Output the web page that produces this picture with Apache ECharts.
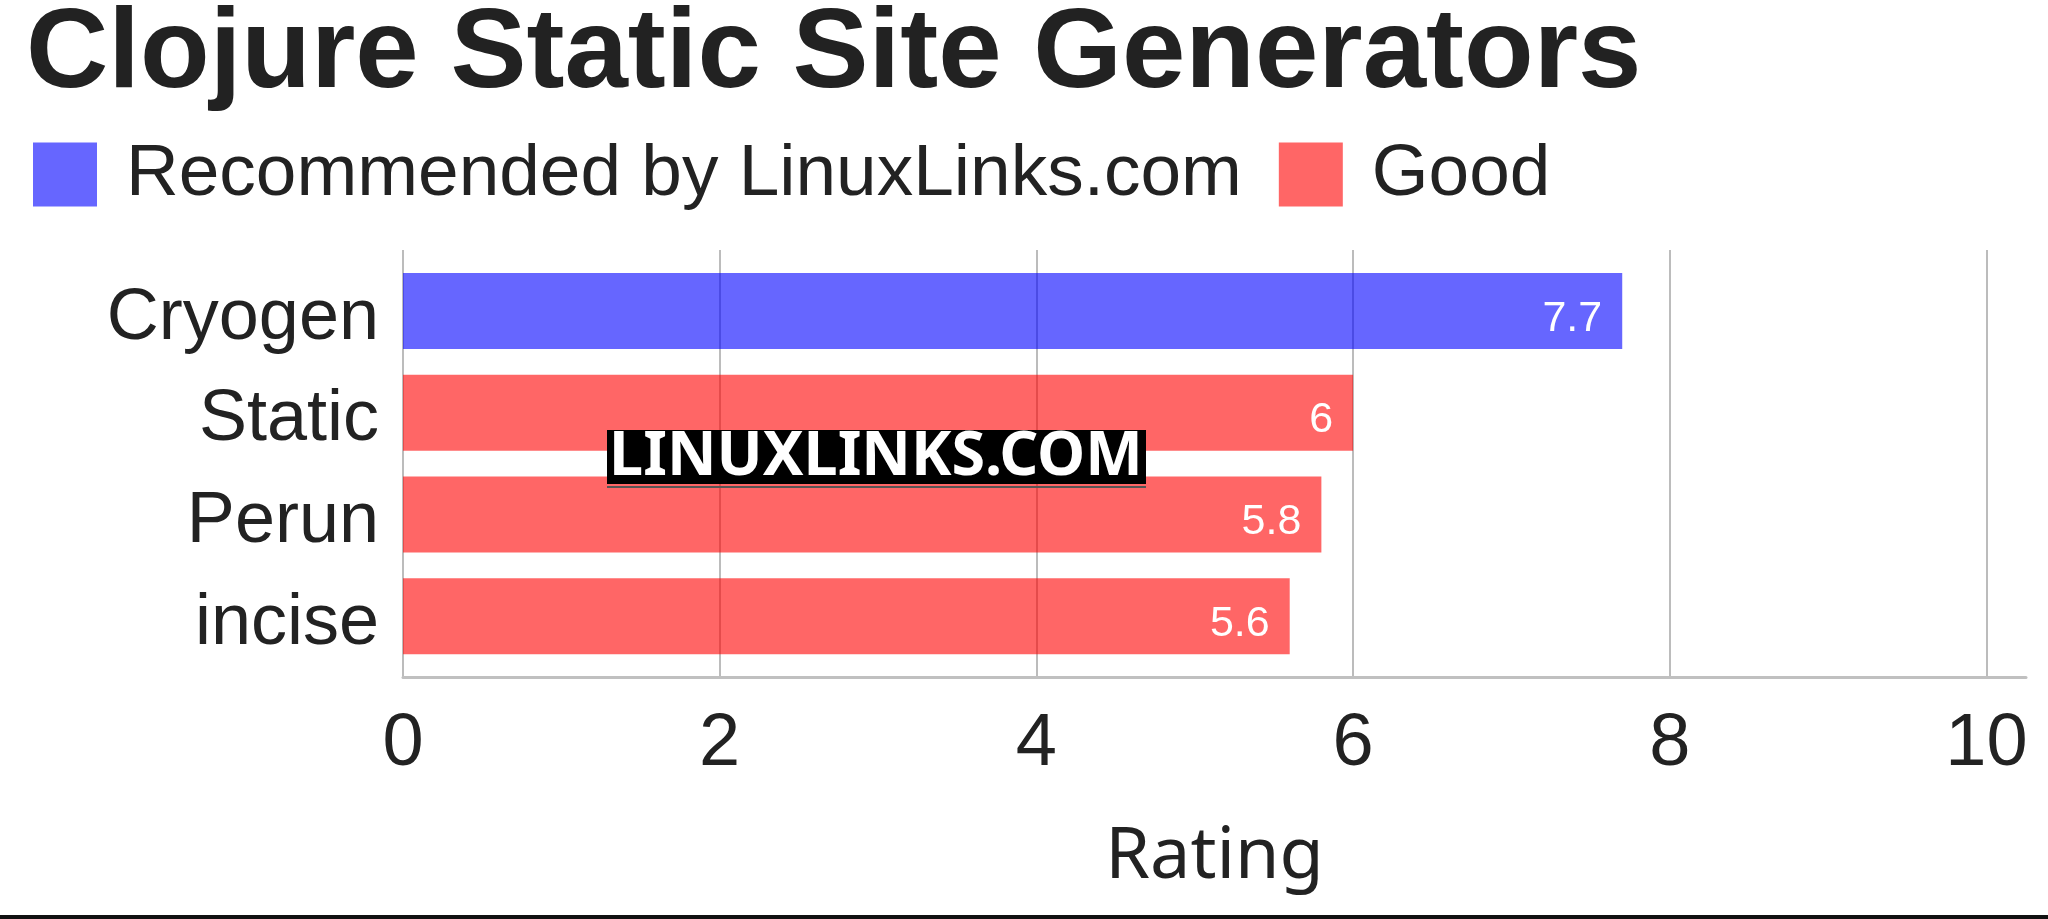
<!DOCTYPE html>
<html>
<head>
<meta charset="utf-8">
<script src="https://cdn.jsdelivr.net/npm/echarts@6/dist/echarts.min.js"></script>
<style>
html,body{margin:0;padding:0;background:#fff;}
#chart{width:2048px;height:919px;}
</style>
</head>
<body>
<div id="chart"></div>
<script>
const titleText = 'Clojure Static Site Generators';
const categories = ['Cryogen', 'Static', 'Perun', 'incise'];
const seriesNames = ['Recommended by LinuxLinks.com', 'Good'];
const recommendedValues = [7.7, '-', '-', '-'];
const goodValues = ['-', 6, 5.8, 5.6];
const axisName = 'Rating';
const axisMin = 0;
const axisMax = 10.25;
const axisInterval = 2;
const watermarkText = 'LINUXLINKS.COM';

const chart = echarts.init(document.getElementById('chart'));
const sans = '"Liberation Sans", Arial, sans-serif';

const option = {
  animation: false,
  backgroundColor: '#ffffff',
  title: {
    text: titleText,
    left: 21,
    top: 5,
    textStyle: {
      fontFamily: sans,
      fontWeight: 'bold',
      fontSize: 114,
      lineHeight: 92,
      color: '#222222'
    }
  },
  legend: {
    left: 33,
    top: 138,
    itemWidth: 64,
    itemHeight: 64,
    itemGap: 37,
    icon: 'rect',
    padding: 0,
    textStyle: {
      fontFamily: sans,
      fontSize: 73,
      color: '#222222',
      padding: [0, 0, 0, 24]
    },
    data: seriesNames
  },
  grid: [
    { left: 403, right: 22, top: 260, bottom: 252, containLabel: false },
    { left: 403, right: 22, top: 250, bottom: 242, containLabel: false }
  ],
  xAxis: [
    { gridIndex: 0, type: 'value', min: axisMin, max: axisMax, interval: axisInterval, show: false },
    {
      gridIndex: 1, type: 'value', min: axisMin, max: axisMax, interval: axisInterval,
      axisLine: { show: true, lineStyle: { color: '#c0c0c0', width: 3 } },
      axisTick: { show: false },
      splitLine: { show: true, showMaxLine: false, lineStyle: { color: '#bcbcbc', width: 2 } },
      axisLabel: {
        showMaxLabel: false,
        fontFamily: sans, fontSize: 74, color: '#222222', margin: 31
      },
      name: axisName,
      nameLocation: 'middle',
      nameGap: 144,
      nameTextStyle: { fontFamily: '"Noto Sans", sans-serif', fontSize: 72, color: '#222222' }
    }
  ],
  yAxis: [
    {
      gridIndex: 0, type: 'category', data: categories, inverse: true,
      axisLine: { show: false }, axisTick: { show: false }, splitLine: { show: false },
      axisLabel: { fontFamily: sans, fontSize: 72, color: '#222222', margin: 24, verticalAlign: 'top', lineHeight: 16 }
    },
    { gridIndex: 1, type: 'value', show: false }
  ],
  series: [
    {
      name: seriesNames[0], type: 'bar', xAxisIndex: 0, yAxisIndex: 0,
      data: recommendedValues, barWidth: 76, barGap: '-100%',
      itemStyle: { color: 'rgba(0,0,255,0.6)' },
      label: { show: true, position: 'insideRight', distance: 20, offset: [0, 8], color: '#ffffff', fontFamily: sans, fontSize: 43 }
    },
    {
      name: seriesNames[1], type: 'bar', xAxisIndex: 0, yAxisIndex: 0,
      data: goodValues, barWidth: 76, barGap: '-100%',
      itemStyle: { color: 'rgba(255,0,0,0.6)' },
      label: { show: true, position: 'insideRight', distance: 20, offset: [0, 8], color: '#ffffff', fontFamily: sans, fontSize: 43 }
    }
  ],
  graphic: [
    {
      type: 'rect', z: 100, left: 607, top: 430,
      shape: { width: 539, height: 54 },
      style: { fill: '#000000' }
    },
    {
      type: 'rect', z: 100, left: 607, top: 486,
      shape: { width: 539, height: 2 },
      style: { fill: '#555555' }
    },
    {
      type: 'text', z: 101, x: 876, y: 458,
      style: {
        text: watermarkText, fill: '#ffffff',
        font: 'bold 61px "Noto Sans", sans-serif',
        align: 'center', verticalAlign: 'middle'
      }
    },
    {
      type: 'rect', z: 100, left: 0, top: 915,
      shape: { width: 2048, height: 4 },
      style: { fill: '#111111' }
    }
  ]
};
chart.setOption(option);
</script>
</body>
</html>
